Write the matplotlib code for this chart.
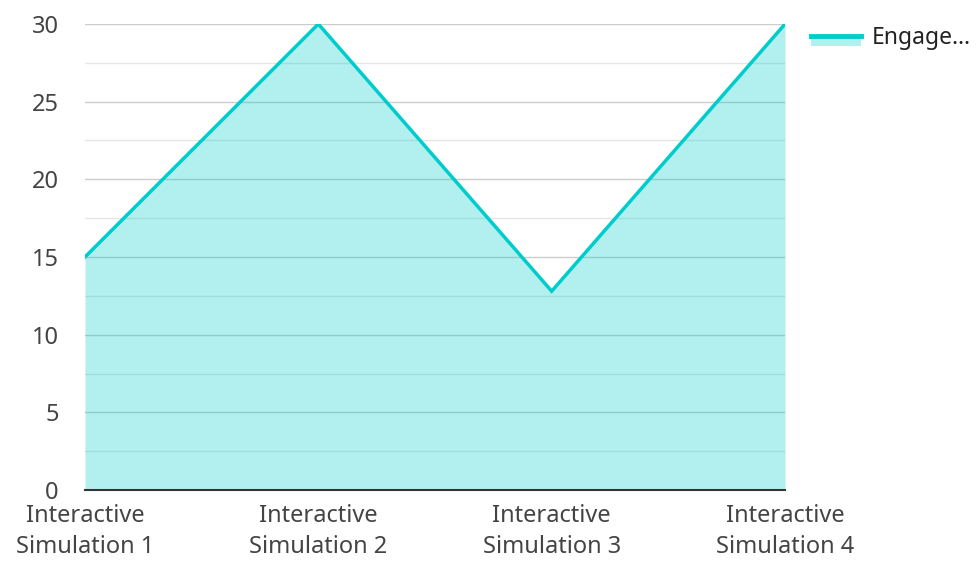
import matplotlib
matplotlib.use('Agg')
import matplotlib.pyplot as plt
from matplotlib.patches import Patch, Rectangle
from matplotlib.lines import Line2D
from matplotlib.legend_handler import HandlerPatch

plt.rcParams['font.family'] = ['Noto Sans', 'DejaVu Sans']

# Data
categories = ['Interactive\nSimulation 1', 'Interactive\nSimulation 2',
              'Interactive\nSimulation 3', 'Interactive\nSimulation 4']
engagement = [15, 30, 12.8, 30]
series_label = 'Engage…'

C_LINE = '#00cccc'
C_TEXT = '#444444'
FS = 17

fig = plt.figure(figsize=(9.78, 5.62), dpi=100)
ax = fig.add_axes([0.0869, 0.1281, 0.7158, 0.8292])

x = list(range(len(categories)))
ax.fill_between(x, engagement, 0, color=C_LINE, alpha=0.3, linewidth=0, zorder=3)
ax.plot(x, engagement, color=C_LINE, lw=2.5, zorder=4, solid_joinstyle='miter')

ax.set_xlim(0, len(categories) - 1)
ax.set_ylim(0, 30)
ax.set_yticks(range(0, 31, 5))
ax.set_yticks([2.5 + 5 * i for i in range(6)], minor=True)
ax.grid(axis='y', which='major', color='#cccccc', lw=1, zorder=1)
ax.grid(axis='y', which='minor', color='#e6e6e6', lw=1, zorder=1)
ax.set_axisbelow(True)

ax.set_xticks(x)
ax.set_xticklabels(categories, fontsize=FS, color=C_TEXT, linespacing=1.4)
ax.tick_params(axis='both', which='both', length=0, labelsize=FS, labelcolor=C_TEXT)
ax.tick_params(axis='x', pad=10)
ax.tick_params(axis='y', pad=19)

for s in ['top', 'right', 'left']:
    ax.spines[s].set_visible(False)
ax.spines['bottom'].set_color('#333333')
ax.spines['bottom'].set_linewidth(1.5)
ax.spines['bottom'].set_zorder(5)


# legend swatch: filled box in the lower half, line on its top edge
def lower_box(legend, orig_handle, xdescent, ydescent, width, height, fontsize):
    return Rectangle((-xdescent, -ydescent), width, height / 2)


handle = (Patch(facecolor=C_LINE, alpha=0.3, edgecolor='none'),
          Line2D([], [], color=C_LINE, lw=3.5))
leg = fig.legend([handle], [series_label], loc='upper left',
                 bbox_to_anchor=(0.808, 0.990), frameon=False, fontsize=16.5,
                 handlelength=2.2, handleheight=0.9, handletextpad=0.45,
                 labelcolor='#222222',
                 handler_map={Patch: HandlerPatch(patch_func=lower_box)})

fig.savefig('out.png', dpi=100, facecolor='white')
plt.close()
